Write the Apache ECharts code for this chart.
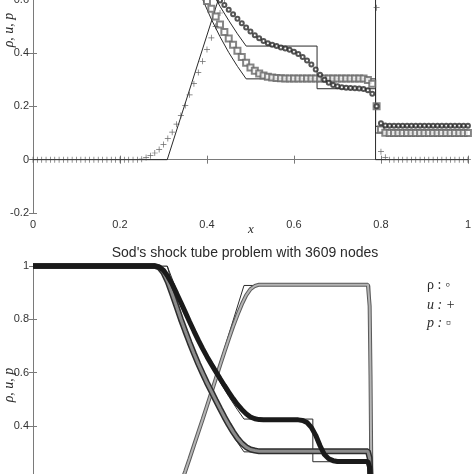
<!DOCTYPE html>
<html>
<head>
<meta charset="utf-8">
<title>Sod shock tube</title>
<script src="https://cdn.jsdelivr.net/npm/echarts@6.0.0/dist/echarts.min.js"></script>
<style>
	html, body {
		margin: 0;
		padding: 0;
		width: 474px;
		height: 474px;
		overflow: hidden;
		background: #fff;
	}
	/* the figure is taller than the window: only the middle part shows */
	#main {
		position: absolute;
		left: 0;
		top: -130px;
		width: 474px;
		height: 760px;
	}
</style>
</head>
<body>
<div id="main"></div>
<script>
// ---- top plot (coarse mesh), node positions and values
var xTop = [
	0, 0.01, 0.02, 0.03, 0.04, 0.05, 0.06, 0.07, 0.08, 0.09,
	0.1, 0.11, 0.12, 0.13, 0.14, 0.15, 0.16, 0.17, 0.18, 0.19,
	0.2, 0.21, 0.22, 0.23, 0.24, 0.25, 0.26, 0.27, 0.28, 0.29,
	0.3, 0.31, 0.32, 0.33, 0.34, 0.35, 0.36, 0.37, 0.38, 0.39,
	0.4, 0.41, 0.42, 0.43, 0.44, 0.45, 0.46, 0.47, 0.48, 0.49,
	0.5, 0.51, 0.52, 0.53, 0.54, 0.55, 0.56, 0.57, 0.58, 0.59,
	0.6, 0.61, 0.62, 0.63, 0.64, 0.65, 0.66, 0.67, 0.68, 0.69,
	0.7, 0.71, 0.72, 0.73, 0.74, 0.75, 0.76, 0.77, 0.78, 0.79,
	0.8, 0.81, 0.82, 0.83, 0.84, 0.85, 0.86, 0.87, 0.88, 0.89,
	0.9, 0.91, 0.92, 0.93, 0.94, 0.95, 0.96, 0.97, 0.98, 0.99,
	1
];
var rhoTop = [
	1, 1, 1, 1, 1, 1, 1, 1, 1, 1,
	1, 1, 1, 1, 1, 1, 1, 1, 1, 1,
	1, 1, 1, 1, 1, 1, 0.999, 0.997, 0.991, 0.981,
	0.966, 0.946, 0.921, 0.893, 0.862, 0.83, 0.796, 0.762, 0.729, 0.697,
	0.667, 0.64, 0.615, 0.597, 0.58, 0.562, 0.545, 0.528, 0.512, 0.496,
	0.481, 0.467, 0.455, 0.445, 0.437, 0.431, 0.426, 0.421, 0.417, 0.412,
	0.405, 0.396, 0.385, 0.372, 0.357, 0.338, 0.318, 0.3, 0.288, 0.28,
	0.275, 0.272, 0.27, 0.269, 0.268, 0.267, 0.265, 0.26, 0.247, 0.2,
	0.137, 0.128, 0.127, 0.127, 0.127, 0.127, 0.127, 0.127, 0.127, 0.127,
	0.127, 0.127, 0.127, 0.127, 0.127, 0.127, 0.127, 0.127, 0.127, 0.127,
	0.127
];
var uTop = [
	0, 0, 0, 0, 0, 0, 0, 0, 0, 0,
	0, 0, 0, 0, 0, 0, 0, 0, 0, 0,
	0, 0, 0, 0, 0, 0.002, 0.008, 0.015, 0.025, 0.038,
	0.057, 0.079, 0.103, 0.133, 0.166, 0.203, 0.243, 0.285, 0.327, 0.369,
	0.413, 0.457, 0.5, 0.55, 0.6, 0.647, 0.693, 0.737, 0.777, 0.814,
	0.847, 0.875, 0.897, 0.912, 0.92, 0.925, 0.927, 0.927, 0.927, 0.927,
	0.927, 0.927, 0.927, 0.927, 0.927, 0.927, 0.927, 0.927, 0.927, 0.927,
	0.927, 0.927, 0.927, 0.927, 0.927, 0.927, 0.927, 0.927, 0.927, 0.57,
	0.03, 0.009, 0, 0, 0, 0, 0, 0, 0, 0,
	0, 0, 0, 0, 0, 0, 0, 0, 0, 0,
	0
];
var pTop = [
	1, 1, 1, 1, 1, 1, 1, 1, 1, 1,
	1, 1, 1, 1, 1, 1, 1, 1, 1, 1,
	1, 1, 1, 1, 1, 0.999, 0.997, 0.992, 0.983, 0.968,
	0.947, 0.92, 0.888, 0.852, 0.814, 0.776, 0.738, 0.701, 0.665, 0.63,
	0.595, 0.566, 0.537, 0.507, 0.479, 0.454, 0.431, 0.408, 0.385, 0.363,
	0.346, 0.333, 0.323, 0.316, 0.311, 0.308, 0.306, 0.305, 0.304, 0.304,
	0.304, 0.304, 0.304, 0.304, 0.304, 0.304, 0.304, 0.304, 0.304, 0.304,
	0.304, 0.304, 0.304, 0.304, 0.304, 0.304, 0.304, 0.299, 0.285, 0.2,
	0.113, 0.101, 0.1, 0.1, 0.1, 0.1, 0.1, 0.1, 0.1, 0.1,
	0.1, 0.1, 0.1, 0.1, 0.1, 0.1, 0.1, 0.1, 0.1, 0.1,
	0.1
];
// exact solution, top plot
var rhoExactTop = [[0, 1], [0.3086, 1], [0.33, 0.911], [0.35, 0.834], [0.37, 0.762], [0.39, 0.695],
	[0.41, 0.633], [0.43, 0.575], [0.45, 0.522], [0.47, 0.472], [0.4901, 0.426], [0.6531, 0.426],
	[0.6531, 0.266], [0.7876, 0.266], [0.7876, 0.125], [1, 0.125]];
var uExactTop = [[0, 0], [0.3086, 0], [0.4901, 0.927], [0.7876, 0.927], [0.7876, 0], [1, 0]];
var pExactTop = [[0, 1], [0.3086, 1], [0.33, 0.878], [0.35, 0.775], [0.37, 0.683], [0.39, 0.601],
	[0.41, 0.527], [0.43, 0.461], [0.45, 0.402], [0.47, 0.35], [0.4901, 0.303], [0.7876, 0.303],
	[0.7876, 0.1], [1, 0.1]];

// ---- bottom plot (3609 nodes)
var xBot = [
	0, 0.01, 0.02, 0.03, 0.04, 0.05, 0.06, 0.07, 0.08, 0.09,
	0.1, 0.11, 0.12, 0.13, 0.14, 0.15, 0.16, 0.17, 0.18, 0.19,
	0.2, 0.21, 0.22, 0.23, 0.24, 0.25, 0.26, 0.27, 0.28, 0.29,
	0.3, 0.31, 0.32, 0.33, 0.34, 0.35, 0.36, 0.37, 0.38, 0.39,
	0.4, 0.41, 0.42, 0.43, 0.44, 0.45, 0.46, 0.47, 0.48, 0.49,
	0.5, 0.51, 0.52, 0.53, 0.54, 0.55, 0.56, 0.57, 0.58, 0.59,
	0.6, 0.61, 0.62, 0.63, 0.64, 0.65, 0.66, 0.67, 0.68, 0.69,
	0.7, 0.71, 0.72, 0.73, 0.74, 0.75, 0.76, 0.77,
	0.772, 0.774, 0.776, 0.778,
	0.78, 0.79, 0.8, 0.81, 0.82, 0.83, 0.84, 0.85, 0.86, 0.87,
	0.88, 0.89, 0.9, 0.91, 0.92, 0.93, 0.94, 0.95, 0.96, 0.97,
	0.98, 0.99, 1
];
var rhoBot = [
	1, 1, 1, 1, 1, 1, 1, 1, 1, 1,
	1, 1, 1, 1, 1, 1, 1, 1, 1, 1,
	1, 1, 1, 1, 1, 1, 1, 1, 1, 0.996,
	0.984, 0.961, 0.932, 0.898, 0.863, 0.827, 0.791, 0.756, 0.722, 0.69,
	0.66, 0.632, 0.605, 0.578, 0.552, 0.527, 0.503, 0.481, 0.462, 0.446,
	0.434, 0.427, 0.424, 0.423, 0.423, 0.423, 0.423, 0.423, 0.423, 0.423,
	0.423, 0.423, 0.421, 0.413, 0.395, 0.365, 0.326, 0.293, 0.277, 0.27,
	0.267, 0.267, 0.267, 0.267, 0.267, 0.267, 0.267, 0.267,
	0.265, 0.245, 0.18, 0.135,
	0.127, 0.125, 0.125, 0.125, 0.125, 0.125, 0.125, 0.125, 0.125, 0.125,
	0.125, 0.125, 0.125, 0.125, 0.125, 0.125, 0.125, 0.125, 0.125, 0.125,
	0.125, 0.125, 0.125
];
var uBot = [
	0, 0, 0, 0, 0, 0, 0, 0, 0, 0,
	0, 0, 0, 0, 0, 0, 0, 0, 0, 0,
	0, 0, 0, 0, 0, 0, 0, 0, 0.005, 0.015,
	0.035, 0.063, 0.098, 0.14, 0.185, 0.23, 0.278, 0.327, 0.376, 0.425,
	0.475, 0.525, 0.576, 0.627, 0.677, 0.726, 0.773, 0.816, 0.856, 0.89,
	0.913, 0.925, 0.93, 0.93, 0.93, 0.93, 0.93, 0.93, 0.93, 0.93,
	0.93, 0.93, 0.93, 0.93, 0.93, 0.93, 0.93, 0.93, 0.93, 0.93,
	0.93, 0.93, 0.93, 0.93, 0.93, 0.93, 0.93, 0.93,
	0.925, 0.85, 0.59, 0.2,
	0.02, 0, 0, 0, 0, 0, 0, 0, 0, 0,
	0, 0, 0, 0, 0, 0, 0, 0, 0, 0,
	0, 0, 0
];
var pBot = [
	1, 1, 1, 1, 1, 1, 1, 1, 1, 1,
	1, 1, 1, 1, 1, 1, 1, 1, 1, 1,
	1, 1, 1, 1, 1, 1, 1, 1, 1, 0.995,
	0.975, 0.94, 0.895, 0.848, 0.8, 0.756, 0.713, 0.672, 0.633, 0.597,
	0.562, 0.53, 0.497, 0.465, 0.434, 0.405, 0.378, 0.354, 0.335, 0.321,
	0.312, 0.308, 0.305, 0.305, 0.305, 0.305, 0.305, 0.305, 0.305, 0.305,
	0.305, 0.305, 0.305, 0.305, 0.305, 0.305, 0.305, 0.305, 0.305, 0.305,
	0.305, 0.305, 0.305, 0.305, 0.305, 0.305, 0.305, 0.305,
	0.303, 0.28, 0.2, 0.12,
	0.102, 0.1, 0.1, 0.1, 0.1, 0.1, 0.1, 0.1, 0.1, 0.1,
	0.1, 0.1, 0.1, 0.1, 0.1, 0.1, 0.1, 0.1, 0.1, 0.1,
	0.1, 0.1, 0.1
];
// exact solution, bottom plot
var rhoExactBot = [[0, 1], [0.3086, 1], [0.33, 0.909], [0.35, 0.829], [0.37, 0.756], [0.39, 0.687],
	[0.41, 0.624], [0.43, 0.565], [0.45, 0.511], [0.47, 0.461], [0.4851, 0.426], [0.6434, 0.426],
	[0.6434, 0.266], [0.7742, 0.266], [0.7742, 0.125], [1, 0.125]];
var uExactBot = [[0, 0], [0.3086, 0], [0.4851, 0.927], [0.7742, 0.927], [0.7742, 0], [1, 0]];
var pExactBot = [[0, 1], [0.3086, 1], [0.33, 0.875], [0.35, 0.77], [0.37, 0.676], [0.39, 0.592],
	[0.41, 0.517], [0.43, 0.45], [0.45, 0.391], [0.47, 0.339], [0.4851, 0.303], [0.7742, 0.303],
	[0.7742, 0.1], [1, 0.1]];

var titleText = "Sod's shock tube problem with 3609 nodes";
var yName = 'ρ, u, p';
var xName = 'x';
var legendRows = ['ρ : ◦', 'u : +', 'p : ▫'];

var PLUS = 'path://M4.4,0H5.6V4.4H10V5.6H5.6V10H4.4V5.6H0V4.4H4.4Z';
var AXIS_COLOR = '#7a7a7a';
var LABEL_FONT = '"Liberation Sans", Arial, sans-serif';
var SERIF = '"Liberation Serif", "DejaVu Serif", serif';

function pairs (xs, ys) {
	return xs.map(function (x, i) { return [x, ys[i]]; });
}

function xAx (grid, pos) {
	var bottom = pos === 'bottom';
	return {
		type: 'value', gridIndex: grid, position: pos,
		min: 0, max: 1, interval: 0.2,
		axisLine: {show: true, lineStyle: {color: AXIS_COLOR, width: 1}},
		axisTick: {show: true, inside: true, length: 4, lineStyle: {color: AXIS_COLOR}},
		axisLabel: {show: bottom, color: '#333', fontSize: 11, fontFamily: LABEL_FONT, margin: 6},
		splitLine: {show: false}
	};
}

function yAx (grid, pos) {
	var left = pos === 'left';
	return {
		type: 'value', gridIndex: grid, position: pos,
		min: -0.2, max: 1, interval: 0.2,
		axisLine: {show: true, lineStyle: {color: AXIS_COLOR, width: 1}},
		axisTick: {show: true, inside: true, length: 4, lineStyle: {color: AXIS_COLOR}},
		axisLabel: {show: left, color: '#333', fontSize: 11, fontFamily: LABEL_FONT, margin: 4},
		splitLine: {show: false}
	};
}

function exactLine (data, axis) {
	return {
		type: 'line', xAxisIndex: axis, yAxisIndex: axis,
		data: data, showSymbol: false, silent: true,
		lineStyle: {color: '#2a2a2a', width: 1}, z: 2
	};
}

// dense node clouds of the fine mesh look like hollow ribbons
function band (data, width, edge, fill, inner, z) {
	return [{
		type: 'line', xAxisIndex: 2, yAxisIndex: 2, data: data, showSymbol: false, silent: true,
		lineStyle: {color: edge, width: width}, z: z
	}, {
		type: 'line', xAxisIndex: 2, yAxisIndex: 2, data: data, showSymbol: false, silent: true,
		lineStyle: {color: fill, width: inner}, z: z
	}];
}

function text (x, y, str, font, align, rot) {
	return {
		type: 'text', x: x, y: y, silent: true, rotation: rot || 0,
		style: {text: str, font: font, fill: '#2a2a2a',
			textAlign: align, textVerticalAlign: 'middle', align: align, verticalAlign: 'middle'}
	};
}

var myChart = echarts.init(document.getElementById('main'), null, {renderer: 'canvas'});

var series = [
	// top: exact solution
	exactLine(rhoExactTop, 0),
	exactLine(uExactTop, 0),
	exactLine(pExactTop, 0),
	// top: numerical nodes
	{
		name: 'p', type: 'scatter', xAxisIndex: 0, yAxisIndex: 0,
		data: pairs(xTop, pTop), symbol: 'emptyRect', symbolSize: 6,
		itemStyle: {color: '#666', borderWidth: 0.9}, z: 3
	},
	{
		name: 'ρ', type: 'scatter', xAxisIndex: 0, yAxisIndex: 0,
		data: pairs(xTop, rhoTop), symbol: 'emptyCircle', symbolSize: 4,
		itemStyle: {color: '#2a2a2a', borderWidth: 1}, z: 4
	},
	{
		name: 'u', type: 'scatter', xAxisIndex: 0, yAxisIndex: 0,
		data: pairs(xTop, uTop), symbol: PLUS, symbolSize: 6,
		itemStyle: {color: '#444'}, z: 4
	},
	// bottom: exact solution
	exactLine(rhoExactBot, 2),
	exactLine(uExactBot, 2),
	exactLine(pExactBot, 2)
];
series = series.concat(
	band(pairs(xBot, uBot), 4, '#5a5a5a', '#b5b5b5', 2, 3),
	band(pairs(xBot, pBot), 6, '#2e2e2e', '#8c8c8c', 3, 3)
);
series.push({
	name: 'ρ', type: 'line', xAxisIndex: 2, yAxisIndex: 2,
	data: pairs(xBot, rhoBot), showSymbol: false, silent: true,
	lineStyle: {color: '#1a1a1a', width: 5}, z: 4
});

var option = {
	animation: false,
	backgroundColor: '#fff',
	grid: [
		{left: 33, top: 23, width: 438, height: 320},
		{left: 33, top: 396, width: 438, height: 320}
	],
	xAxis: [xAx(0, 'bottom'), xAx(0, 'top'), xAx(1, 'bottom'), xAx(1, 'top')],
	yAxis: [yAx(0, 'left'), yAx(0, 'right'), yAx(1, 'left'), yAx(1, 'right')],
	series: series,
	graphic: [
		text(9, 160, yName, 'italic 14px ' + SERIF, 'center', Math.PI / 2),
		text(9, 515, yName, 'italic 14px ' + SERIF, 'center', Math.PI / 2),
		text(251, 360, xName, 'italic 13px ' + SERIF, 'center'),
		text(245, 383, titleText, '14px ' + LABEL_FONT, 'center'),
		text(427, 415, legendRows[0], '14px ' + SERIF, 'left'),
		text(427, 435, legendRows[1], 'italic 14px ' + SERIF, 'left'),
		text(427, 453, legendRows[2], 'italic 14px ' + SERIF, 'left')
	]
};
myChart.setOption(option);
</script>
</body>
</html>
